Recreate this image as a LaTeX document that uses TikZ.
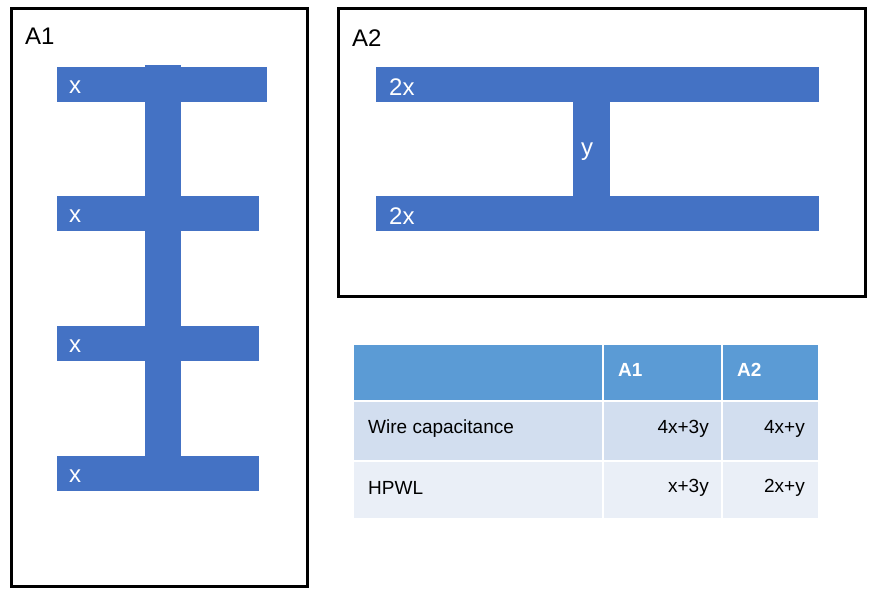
\documentclass[tikz,border=0pt]{standalone}
\usepackage{fontspec}
\setmainfont{Liberation Sans}
\definecolor{wire}{HTML}{4472C4}
\definecolor{head}{HTML}{5B9BD5}
\definecolor{rowa}{HTML}{D2DEEF}
\definecolor{rowb}{HTML}{EAEFF7}
\tikzset{
  frame/.style={draw=black, line width=3pt},
  bar/.style={fill=wire},
  big/.style={font=\fontsize{24}{28}\selectfont, inner sep=0pt},
  wlabel/.style={big, text=white, anchor=west},
  cell/.style={font=\fontsize{19}{22}\selectfont, inner sep=0pt},
}
\begin{document}
\begin{tikzpicture}[x=1pt,y=-1pt]
\useasboundingbox (0,0) rectangle (879,597);
% left layout
\draw [frame] (11,8) rectangle (307,586);
\node (tA1) [big, anchor=west] at (25,36) {A1};
\fill [bar] (145,65) rectangle (181,491);
\fill [bar] (57,67) rectangle (267,102);
\foreach \y in {196,326,456}
  \fill [bar] (57,\y) rectangle (259,\y+35);
\foreach \y [count=\i] in {87,216,346,476}
  \node (x\i) [wlabel] at (69,\y) {x};
% right layout
\draw [frame] (338,8) rectangle (865,296);
\node (tA2) [big, anchor=west] at (352,38) {A2};
\fill [bar] (376,67) rectangle (819,102);
\fill [bar] (376,196) rectangle (819,231);
\fill [bar] (573,100) rectangle (610,198);
\node (top) [wlabel] at (389,87) {2x};
\node (bot) [wlabel] at (389,216) {2x};
\node (yy) [wlabel] at (581,152) {y};
% table
\fill [head] (354,345) rectangle (818,400);
\fill [rowa] (354,402) rectangle (818,460);
\fill [rowb] (354,462) rectangle (818,518);
\draw [white, line width=2pt] (603,345) -- (603,518) (722,345) -- (722,518);
\node (hA1) [cell, text=white, anchor=west, font=\fontsize{19}{22}\selectfont\bfseries] at (618,370) {A1};
\node (hA2) [cell, text=white, anchor=west, font=\fontsize{19}{22}\selectfont\bfseries] at (737,370) {A2};
\node (r1) [cell, anchor=west] at (368,429) {Wire capacitance};
\node (r1a) [cell, anchor=east] at (709,429) {4x+3y};
\node (r1b) [cell, anchor=east] at (805,429) {4x+y};
\node (r2) [cell, anchor=west] at (368,488) {HPWL};
\node (r2a) [cell, anchor=east] at (709,488) {x+3y};
\node (r2b) [cell, anchor=east] at (805,488) {2x+y};
\end{tikzpicture}
\end{document}
